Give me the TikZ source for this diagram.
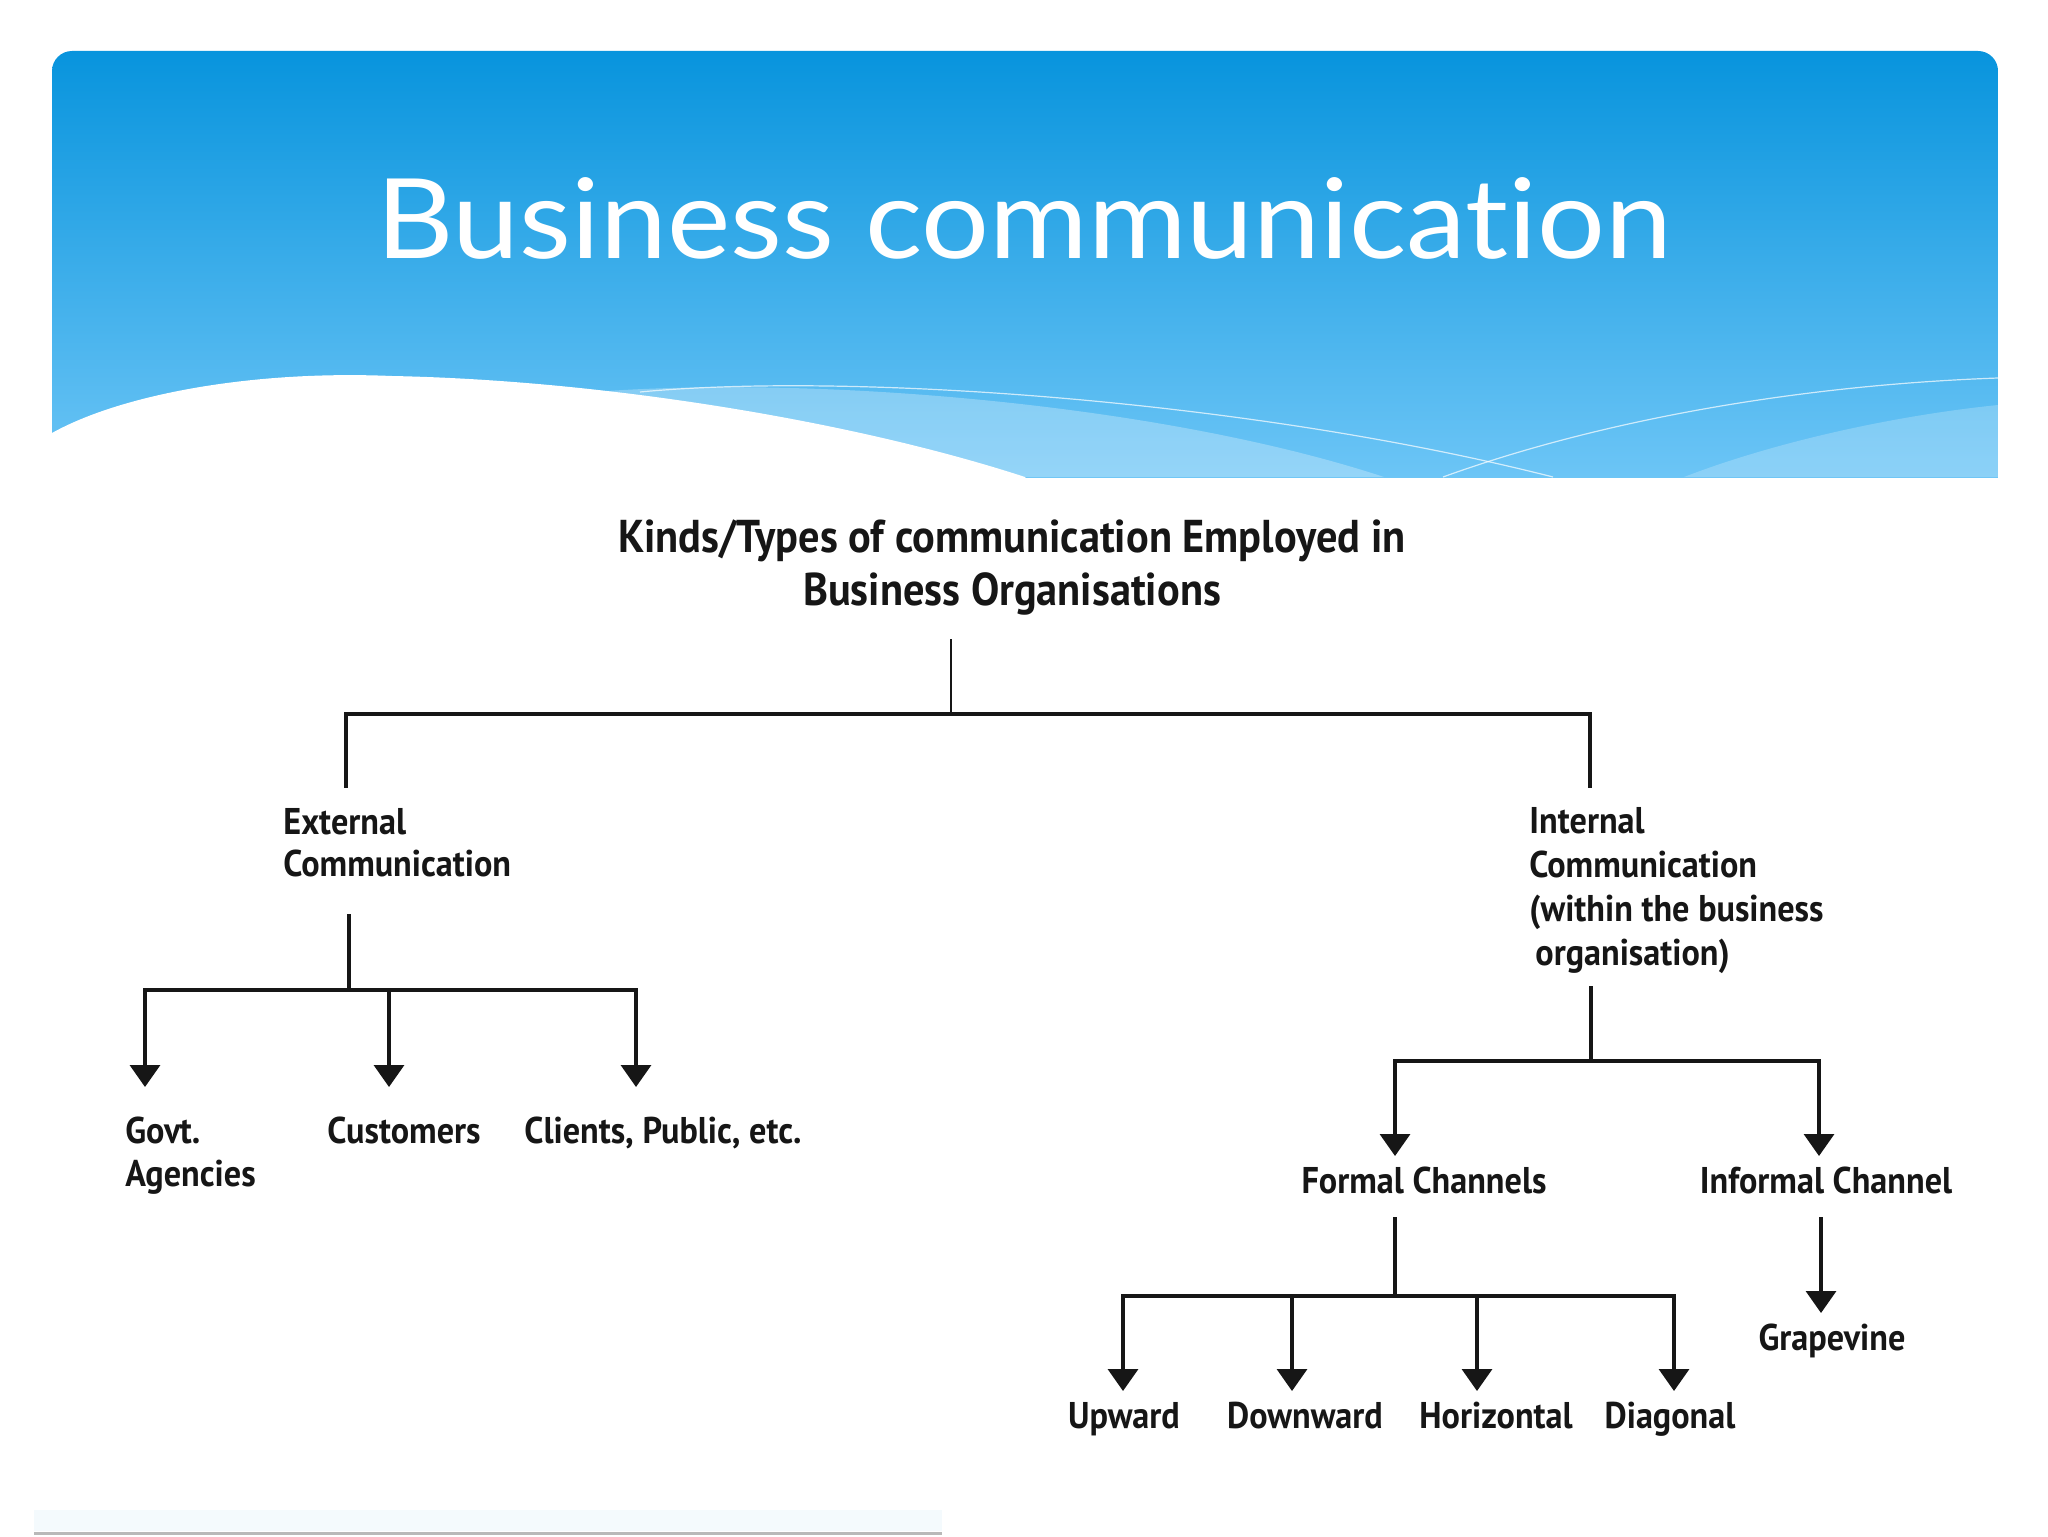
\documentclass[tikz,border=0pt]{standalone}
\usepackage{fontspec}
\setmainfont{PT Sans}
\newfontfamily\dfont[FakeStretch=0.92]{PT Sans}
\newfontfamily\headfont[FakeStretch=1.08, Ligatures=NoCommon]{Lato}
\usetikzlibrary{arrows.meta}
\definecolor{hdtop}{RGB}{8,148,221}
\definecolor{hdbot}{RGB}{108,197,246}
\definecolor{ink}{RGB}{22,22,22}
\definecolor{stripc}{RGB}{244,250,253}
\tikzset{
  x=0.5pt, y=-0.5pt,
  lab/.style={font=\dfont\fontsize{18.6}{22}\selectfont\bfseries, text=ink, inner sep=0pt, anchor=base west, align=left},
  labc/.style={lab, anchor=base, align=center},
  roottext/.style={font=\dfont\fontsize{23}{26.5}\selectfont\bfseries, text=ink, inner sep=0pt, anchor=base, align=center},
  conn/.style={line width=1.7pt, draw=ink},
  thinconn/.style={line width=1.3pt, draw=ink},
  arr/.style={conn, -{Triangle[width=15pt,length=11pt]}},
}
\begin{document}
\begin{tikzpicture}
\useasboundingbox (0,0) rectangle (2048,1536);
\fill[white] (0,0) rectangle (2048,1536);
% header
\begin{scope}
  \clip[rounded corners=10pt] (52,51) rectangle (1998,540);
  \clip (52,51) rectangle (1998,477);
  \shade[top color=hdtop, bottom color=hdbot] (52,51) rectangle (1998,477);
  \fill[white, opacity=0.28] (560,395) .. controls (780,372) and (1150,400) .. (1384,477) -- (560,477) -- cycle;
  \fill[white, opacity=0.22] (1684,477) .. controls (1780,440) and (1900,415) .. (1998,405) -- (1998,477) -- cycle;
  \draw[white, opacity=0.7, line width=0.6pt] (640,392) .. controls (850,372) and (1250,400) .. (1553,477);
  \draw[white, opacity=0.7, line width=0.6pt] (1443,477) .. controls (1600,420) and (1800,385) .. (1998,378);
\end{scope}
\fill[white] (46,436) -- (52,433) .. controls (120,395) and (250,370) .. (392,376) .. controls (600,380) and (850,420) .. (1025,477) -- (1030,484) -- (46,484) -- cycle;
\node[font=\headfont\fontsize{55.5}{60}\selectfont, text=white, anchor=base, inner sep=0pt] (title) at (1024,258) {Business communication};
% bottom strip
\fill[stripc] (34,1510) rectangle (942,1531);
\draw[gray!55, line width=1.5pt] (34,1533) -- (942,1533);

% diagram
\node[roottext] (root) at (1012,605) {Kinds/Types of communication Employed in\\Business Organisations};
\coordinate (rootstem) at (951,639);
\coordinate (rj) at (951,714);
\coordinate (rld) at (346,788);
\coordinate (rrd) at (1590,788);
\draw[thinconn] (rootstem) -- (rj);
\draw[conn] (rj) -| (rld);
\draw[conn] (rj) -| (rrd);

\node[lab, font=\dfont\fontsize{18.6}{21}\selectfont\bfseries] (ext) at (283,876) {External\\Communication};
\node[lab] (int) at (1529,965) {Internal\\Communication\\(within the business\\\hspace{3pt}organisation)};

% external branch
\coordinate (es) at (349,914);
\coordinate (ej) at (349,990);
\coordinate (cj) at (389,990);
\coordinate (govtTip) at (145,1087);
\coordinate (custTip) at (389,1087);
\coordinate (cliTip) at (636,1087);
\draw[conn] (es) -- (ej);
\draw[arr] (ej) -| (govtTip);
\draw[arr] (ej) -| (cliTip);
\draw[arr] (cj) -- (custTip);
\node[lab, font=\dfont\fontsize{18.6}{21.5}\selectfont\bfseries] (govt) at (125,1186) {Govt.\\Agencies};
\node[labc] (cust) at (404,1143) {Customers};
\node[labc] (cli) at (663,1143) {Clients, Public, etc.};

% internal branch
\coordinate (is) at (1591,986);
\coordinate (ij) at (1591,1061);
\coordinate (formTip) at (1395,1156);
\coordinate (infTip) at (1819,1156);
\draw[conn] (is) -- (ij);
\draw[arr] (ij) -| (formTip);
\draw[arr] (ij) -| (infTip);
\node[labc] (formal) at (1424,1193) {Formal Channels};
\node[labc] (informal) at (1826,1193) {Informal Channel};

% formal branch
\coordinate (fs) at (1395,1217);
\coordinate (fj) at (1395,1296);
\coordinate (dj) at (1292,1296);
\coordinate (hj) at (1477,1296);
\coordinate (upTip) at (1123,1391);
\coordinate (downTip) at (1292,1391);
\coordinate (horTip) at (1477,1391);
\coordinate (diaTip) at (1674,1391);
\draw[conn] (fs) -- (fj);
\draw[arr] (fj) -| (upTip);
\draw[arr] (fj) -| (diaTip);
\draw[arr] (dj) -- (downTip);
\draw[arr] (hj) -- (horTip);
\node[labc] (up) at (1124,1428) {Upward};
\node[labc] (down) at (1305,1428) {Downward};
\node[labc] (hor) at (1496,1428) {Horizontal};
\node[labc] (dia) at (1670,1428) {Diagonal};

% informal branch
\coordinate (gs) at (1821,1217);
\coordinate (grTip) at (1821,1313);
\draw[arr] (gs) -- (grTip);
\node[labc] (grape) at (1832,1350) {Grapevine};
\end{tikzpicture}
\end{document}
